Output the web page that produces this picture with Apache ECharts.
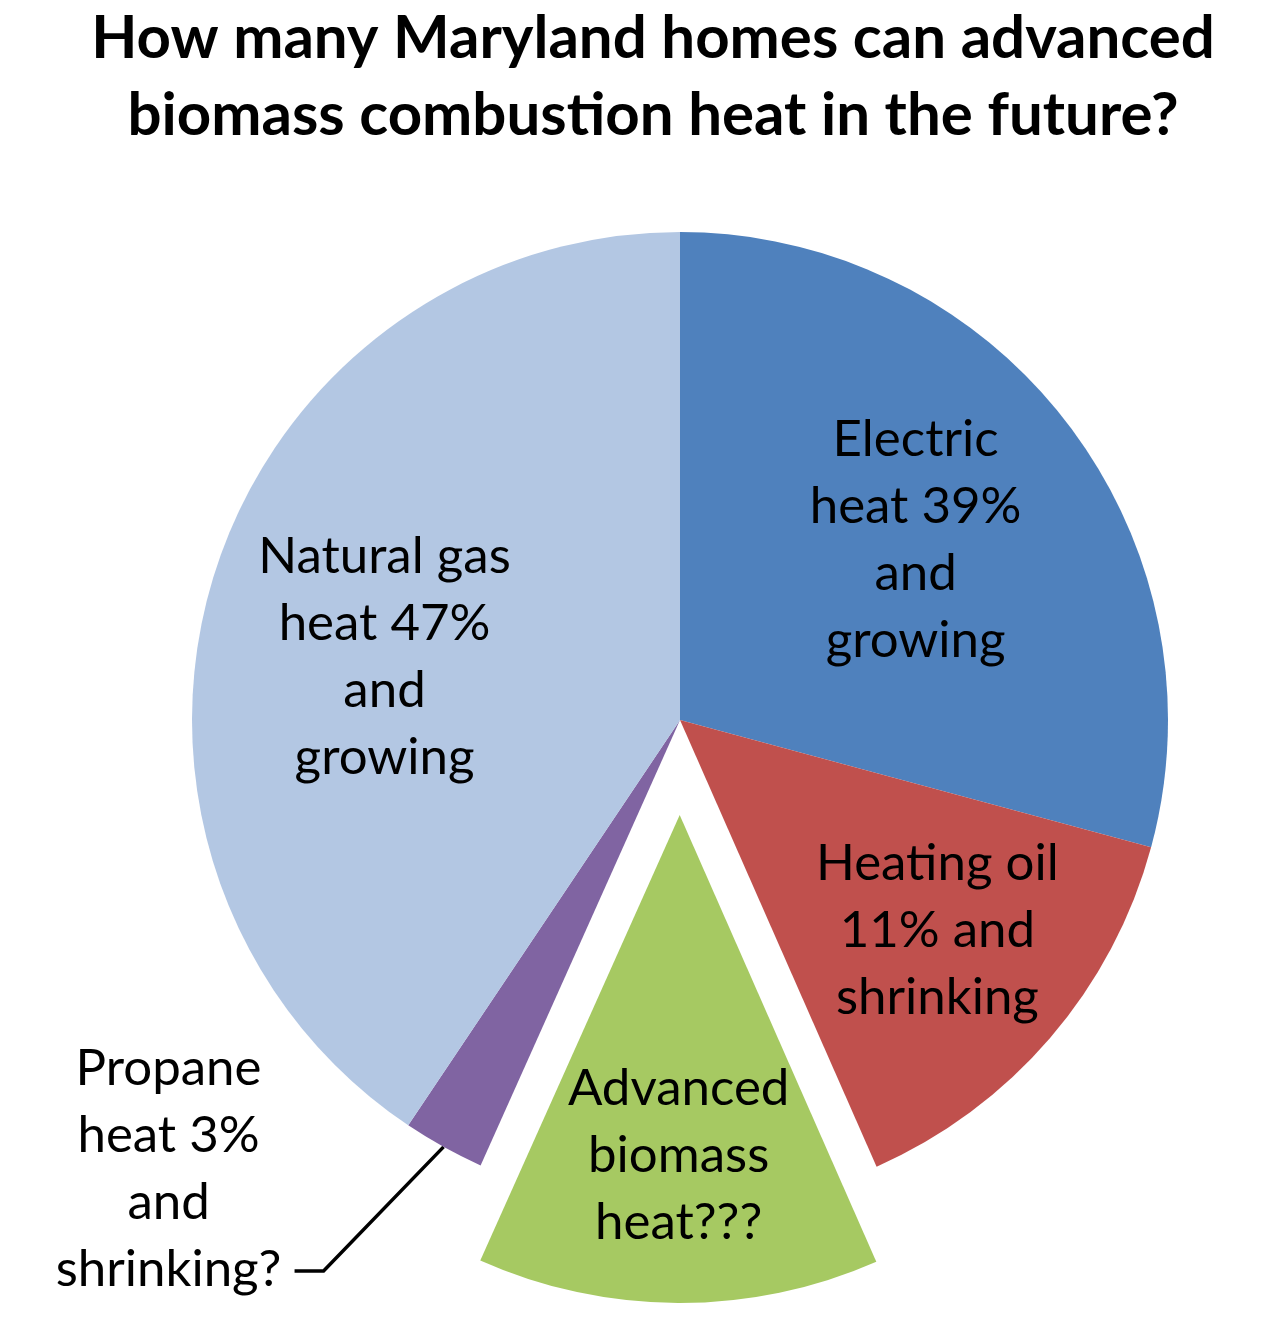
<!DOCTYPE html>
<html>
<head>
<meta charset="utf-8">
<script src="https://cdn.jsdelivr.net/npm/echarts@6/dist/echarts.min.js"></script>
<style>
html,body{margin:0;padding:0;background:#fff;}
#chart{width:1280px;height:1338px;}
</style>
</head>
<body>
<div id="chart"></div>
<script>
// ---- data ----
const titleText = 'How many Maryland homes can advanced\nbiomass combustion heat in the future?';
const categories = ['Electric', 'Heating oil', 'Advanced biomass', 'Propane', 'Natural gas'];
const shares = [29.2, 14.2, 13.3, 2.7, 40.6];
const labelTexts = [
  'Electric\nheat 39%\nand\ngrowing',
  'Heating oil\n11% and\nshrinking',
  'Advanced\nbiomass\nheat???',
  'Propane\nheat 3%\nand\nshrinking?',
  'Natural gas\nheat 47%\nand\ngrowing'
];
const explodedIndex = 2;
const outsideLabelIndex = 3;

// ---- styles / layout ----
const colors = ['#4F81BD', '#C0504D', '#A6C962', '#8064A2', '#B3C7E3'];
const cx = 680, cy = 720, R = 488, explodeOffset = 95;
const labelFrac = [0.608, 0.682, 0.697, 1.0, 0.62];
const labelNudge = [[0, 0], [5, -6], [0, 0], [0, 0], [-6, 25]];
const labelFont = 'Lato, "Open Sans", sans-serif';
const leaderStyle = {color: '#000', width: 3.5};

const total = shares.reduce((a, b) => a + b, 0);
let cum = 0;
const midAngles = shares.map(v => { const m = (cum + v / 2) / total * Math.PI * 2; cum += v; return m; });
// exploded slice is drawn by a second pie whose centre is pushed out along that slice's mid-angle
const exCx = cx + explodeOffset * Math.sin(midAngles[explodedIndex]);
const exCy = cy - explodeOffset * Math.cos(midAngles[explodedIndex]);

function makeLayout(ccx, ccy) {
  return function (p) {
    const i = p.dataIndex;
    const a = midAngles[i];
    if (i === outsideLabelIndex) {
      const ax = ccx + R * Math.sin(a), ay = ccy - R * Math.cos(a);
      return {
        x: ax - 275, y: ay + 22,
        align: 'center', verticalAlign: 'middle',
        labelLinePoints: [[ax, ay], [ax - 120, ay + 124], [ax - 149, ay + 124]]
      };
    }
    const r = R * labelFrac[i];
    return {
      x: ccx + r * Math.sin(a) + labelNudge[i][0],
      y: ccy - r * Math.cos(a) + labelNudge[i][1],
      align: 'center', verticalAlign: 'middle'
    };
  };
}

const baseLabel = {
  show: true,
  position: 'inside',
  formatter: p => labelTexts[p.dataIndex],
  fontFamily: labelFont,
  fontSize: 51,
  lineHeight: 67,
  color: '#000',
  align: 'center'
};

function makeData(showExploded) {
  return categories.map((c, i) => {
    const visible = (i === explodedIndex) === showExploded;
    const d = {
      name: c, value: shares[i],
      itemStyle: {color: visible ? colors[i] : 'rgba(0,0,0,0)'},
      label: {show: visible},
      labelLine: {show: false}
    };
    if (visible && i === outsideLabelIndex) {
      d.label = {show: true, position: 'outside'};
      d.labelLine = {show: true, lineStyle: leaderStyle};
    }
    return d;
  });
}

const chart = echarts.init(document.getElementById('chart'), null, {renderer: 'canvas'});
chart.setOption({
  animation: false,
  backgroundColor: '#ffffff',
  graphic: [{
    type: 'text',
    x: 653,
    y: 0,
    silent: true,
    style: {
      text: titleText,
      align: 'center',
      verticalAlign: 'top',
      fontFamily: labelFont,
      fontWeight: 'bold',
      fontSize: 60,
      lineHeight: 77,
      fill: '#000'
    }
  }],
  series: [{
    type: 'pie',
    center: [cx, cy],
    radius: [0, R],
    startAngle: 90,
    clockwise: true,
    silent: true,
    avoidLabelOverlap: false,
    emphasis: {disabled: true},
    itemStyle: {borderWidth: 0},
    label: baseLabel,
    labelLine: {show: false, lineStyle: leaderStyle},
    labelLayout: makeLayout(cx, cy),
    data: makeData(false)
  }, {
    type: 'pie',
    center: [exCx, exCy],
    radius: [0, R],
    startAngle: 90,
    clockwise: true,
    silent: true,
    avoidLabelOverlap: false,
    emphasis: {disabled: true},
    itemStyle: {borderWidth: 0},
    label: baseLabel,
    labelLine: {show: false, lineStyle: leaderStyle},
    labelLayout: makeLayout(exCx, exCy),
    data: makeData(true)
  }]
});
</script>
</body>
</html>
